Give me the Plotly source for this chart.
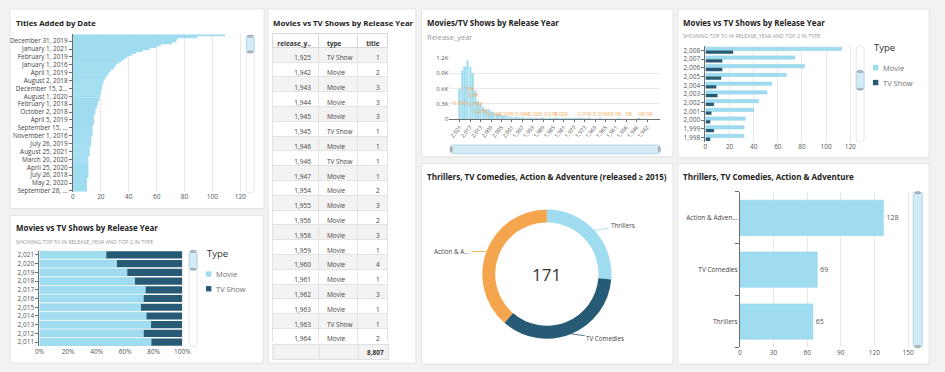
import math
import plotly.graph_objects as go

W, H = 945, 372


def fx(p):
    return p / W


def fy(p):
    return 1 - p / H


FONT = "Open Sans"
LIGHT = "#9fdcf0"
LIGHT_EDGE = "#86cfe8"
DARK = "#275b75"
ORANGE = "#f5a54d"
GRID = "#e8e8e8"
AXIS = "#6e6e6e"
TICK = "#555555"
TITLE = "#222222"
SUB = "#9a9a9a"

# ---------------- data ----------------
# Titles Added by Date (top of the sorted list that is visible)
date_added = [
    "January 1, 2020", "November 1, 2019", "March 1, 2018", "December 31, 2019",
    "October 1, 2018", "July 1, 2021", "September 1, 2021", "January 1, 2021",
    "December 1, 2018", "November 1, 2018", "June 2, 2021", "February 1, 2019",
    "January 1, 2019", "December 1, 2019", "October 1, 2019", "January 1, 2016",
    "January 1, 2018", "March 1, 2019", "August 1, 2018", "April 1, 2019",
    "July 1, 2019", "September 1, 2019", "June 1, 2019", "August 2, 2018",
    "May 1, 2019", "August 1, 2019", "April 1, 2018", "December 15, 2017",
    "July 1, 2018", "June 1, 2018", "May 1, 2018", "August 1, 2020",
    "November 1, 2017", "October 1, 2017", "December 1, 2017", "February 1, 2018",
    "July 1, 2020", "September 1, 2018", "April 1, 2020", "October 2, 2018",
    "March 1, 2017", "June 1, 2017", "January 1, 2017", "April 5, 2019",
    "May 1, 2017", "August 1, 2017", "September 1, 2017", "September 15, 2018",
    "December 1, 2016", "March 1, 2020", "June 1, 2020", "November 1, 2016",
    "July 1, 2017", "October 1, 2020", "February 1, 2020", "July 26, 2019",
    "December 15, 2019", "May 1, 2020", "November 20, 2019", "August 25, 2021",
    "September 1, 2020", "December 31, 2020", "November 1, 2020", "March 20, 2020",
    "June 15, 2018", "October 15, 2019", "April 15, 2018", "April 25, 2020",
    "December 20, 2019", "September 15, 2017", "January 15, 2020", "July 26, 2018",
    "October 15, 2020", "May 15, 2020", "February 15, 2019", "May 2, 2020",
    "March 15, 2018", "August 15, 2020", "December 1, 2020", "September 28, 2018",
]
date_counts = [
    109, 89, 75, 74, 71, 63, 60, 55, 50, 45,
    42, 39, 37, 35, 33, 31, 30, 29, 27, 26,
    25, 24, 23, 22, 22, 21, 21, 21, 20, 20,
    20, 19, 19, 19, 18, 18, 17, 17, 16, 16,
    16, 15, 15, 15, 15, 15, 14, 14, 14, 14,
    14, 14, 13, 13, 13, 13, 13, 12, 12, 12,
    12, 12, 11, 11, 11, 11, 11, 11, 11, 11,
    11, 11, 11, 10, 10, 10, 10, 10, 10, 10,
]
date_tick_text = [
    "December 31, 2019", "January 1, 2021", "February 1, 2019", "January 1, 2016",
    "April 1, 2019", "August 2, 2018", "December 15, 2...", "August 1, 2020",
    "February 1, 2018", "October 2, 2018", "April 5, 2019", "September 15, ...",
    "November 1, 2016", "July 26, 2019", "August 25, 2021", "March 20, 2020",
    "April 25, 2020", "July 26, 2018", "May 2, 2020", "September 28, ...",
]

# Movies vs TV shows share (100% stacked)
share_years = [2021, 2020, 2019, 2018, 2017, 2016, 2015, 2014, 2013, 2012, 2011]
share_movies = [277, 517, 633, 767, 767, 658, 398, 264, 225, 173, 145]
share_tv = [315, 436, 397, 380, 265, 244, 162, 88, 63, 64, 40]
share_ticks = [0, 20, 40, 60, 80, 100]

# Table
table_years = [1925, 1942, 1943, 1944, 1945, 1945, 1946, 1946, 1947, 1954, 1955,
               1956, 1958, 1959, 1960, 1961, 1962, 1963, 1963, 1964, 1965]
table_types = ["TV Show", "Movie", "Movie", "Movie", "Movie", "TV Show", "Movie",
               "TV Show", "Movie", "Movie", "Movie", "Movie", "Movie", "Movie",
               "Movie", "Movie", "Movie", "Movie", "TV Show", "Movie", "Movie"]
table_titles = [1, 2, 3, 3, 3, 1, 1, 1, 1, 2, 3, 2, 3, 1, 4, 1, 3, 1, 1, 2, 2]
total_titles = 8807

# Titles by release year
release_years = list(range(2021, 1957, -1)) + [1956, 1955, 1954, 1947, 1946,
                                               1945, 1944, 1943, 1942, 1925]
release_counts = [
    592, 953, 1030, 1147, 1032, 902, 560, 352, 288, 237,   # 2021-2012
    185, 194, 152, 136, 88, 96, 80, 64, 61, 51,            # 2011-2002
    45, 37, 39, 36, 38, 24, 25, 22, 28, 23,                # 2001-1992
    17, 22, 16, 18, 8, 13, 10, 12, 11, 17,                 # 1991-1982
    13, 11, 11, 7, 7, 9, 7, 7, 10, 5,                      # 1981-1972
    5, 2, 2, 3, 5, 1, 2, 2, 2, 3,                          # 1971-1962
    1, 4, 1, 3,                                            # 1961-1958
    2, 3, 2, 1, 2, 4, 3, 3, 2, 1,                          # 1956-1925
]
labelled_years = [2021, 2018, 2016, 2015, 2013, 2008, 2003, 1997, 1992, 1986,
                  1982, 1973, 1967, 1963, 1960, 1955, 1944, 1925]

# Grouped bars 2008-1998
group_years = [2008, 2007, 2006, 2005, 2004, 2003, 2002, 2001, 2000, 1999, 1998]
group_movies = [113, 74, 82, 67, 55, 51, 44, 40, 33, 32, 32]
group_tv = [23, 14, 14, 13, 9, 10, 7, 5, 4, 7, 4]

# Genres
recent_genres = ["Thrillers", "TV Comedies", "Action & Adventure"]
recent_display = ["Thrillers", "TV Comedies", "Action & A..."]
recent_counts = [45, 60, 66]

all_genres = ["Action & Adventure", "TV Comedies", "Thrillers"]
all_display = ["Action & Adven...", "TV Comedies", "Thrillers"]
all_counts = [128, 69, 65]

# ---------------- figure ----------------
fig = go.Figure()

# Panel A
fig.add_trace(go.Bar(x=date_counts, y=date_added, orientation="h", width=1.0,
                     marker=dict(color=LIGHT, line=dict(width=0)),
                     xaxis="x", yaxis="y", showlegend=False))

# Panel B (100% stacked)
share_labels = [f"{y:,}" for y in share_years]
movie_pct = [m / (m + t) * 100 for m, t in zip(share_movies, share_tv)]
tv_pct = [t / (m + t) * 100 for m, t in zip(share_movies, share_tv)]
fig.add_trace(go.Bar(x=movie_pct, y=share_labels, orientation="h", width=0.82,
                     marker=dict(color=LIGHT, line=dict(color=LIGHT_EDGE, width=0.5)),
                     xaxis="x2", yaxis="y2", showlegend=False, name="Movie"))
fig.add_trace(go.Bar(x=tv_pct, y=share_labels, base=movie_pct, orientation="h",
                     width=0.82, marker=dict(color=DARK, line=dict(width=0)),
                     xaxis="x2", yaxis="y2", showlegend=False, name="TV Show"))

# Panel D
rel_labels = [f"{y:,}" for y in release_years]
fig.add_trace(go.Bar(x=rel_labels, y=release_counts, width=0.7,
                     marker=dict(color=LIGHT, line=dict(width=0)),
                     xaxis="x3", yaxis="y3", showlegend=False))


def kfmt(v):
    s = f"{v / 1000:.2f}".rstrip("0").rstrip(".")
    return s + "K"


lab_vals = [release_counts[release_years.index(y)] for y in labelled_years]
fig.add_trace(go.Scatter(x=[f"{y:,}" for y in labelled_years],
                         y=[max(v / 2, 90) for v in lab_vals],
                         text=[kfmt(v) for v in lab_vals], mode="text",
                         textfont=dict(size=5.5, color=ORANGE, family=FONT),
                         cliponaxis=False, xaxis="x3", yaxis="y3",
                         showlegend=False, hoverinfo="skip"))

# Panel F (grouped)
grp_labels = [f"{y:,}" for y in group_years]
fig.add_trace(go.Bar(x=group_movies, y=grp_labels, orientation="h", width=0.375,
                     offset=-0.375,
                     marker=dict(color=LIGHT, line=dict(color=LIGHT_EDGE, width=0.5)),
                     xaxis="x4", yaxis="y4", showlegend=False, name="Movie"))
fig.add_trace(go.Bar(x=group_tv, y=grp_labels, orientation="h", width=0.375,
                     offset=0.0, marker=dict(color=DARK, line=dict(width=0)),
                     xaxis="x4", yaxis="y4", showlegend=False, name="TV Show"))

# Panel G
fig.add_trace(go.Bar(x=all_counts, y=all_genres, orientation="h", width=0.68,
                     marker=dict(color=LIGHT, line=dict(color=LIGHT_EDGE, width=0.5)),
                     text=all_counts, textposition="outside",
                     textfont=dict(size=7, color="#555555", family=FONT),
                     cliponaxis=False, xaxis="x5", yaxis="y5", showlegend=False))

# Donut
CX, CY, R = 550, 276, 66
fig.add_trace(go.Pie(labels=recent_genres, values=recent_counts, hole=0.8,
                     sort=False, direction="clockwise", rotation=0,
                     marker=dict(colors=[LIGHT, DARK, ORANGE], line=dict(width=0)),
                     textinfo="none", showlegend=False,
                     domain=dict(x=[fx(CX - R), fx(CX + R)], y=[fy(CY + R), fy(CY - R)])))

# Table
n_rows = len(table_years)
row_fill = ["#f3f3f3" if i % 2 == 0 else "#ffffff" for i in range(n_rows)]
fig.add_trace(go.Table(
    domain=dict(x=[fx(271.7), fx(389.3)], y=[fy(346), fy(29.7)]),
    columnwidth=[47.3, 39.3, 31],
    header=dict(values=["release_y..", "type", "title"],
                align=["right", "left", "right"], height=14.3,
                fill_color="#ffffff", line_color="#d9d9d9",
                font=dict(size=6.5, color="#333333", family=FONT, weight="bold")),
    cells=dict(values=[[f"{y:,}" for y in table_years],
                       [t.replace(" ", "\u00a0") for t in table_types],
                       table_titles],
               align=["right", "left", "right"], height=14.8,
               fill_color=[row_fill] * 3, line_color="#e3e3e3",
               font=dict(size=6.5, color="#444444", family=FONT)),
))

# ---------------- axes ----------------
common_tick = dict(family=FONT, size=6.5, color=TICK)
layout_axes = dict(
    xaxis=dict(domain=[fx(69), fx(241)], range=[0, 121.5], anchor="y",
               tickvals=[0, 20, 40, 60, 80, 100, 120], showgrid=True, gridcolor=GRID,
               zeroline=False, showline=False, ticks="", tickfont=common_tick),
    yaxis=dict(domain=[fy(192), fy(31)], anchor="x", type="category",
               categoryorder="array", categoryarray=date_added, autorange="reversed",
               tickvals=date_added[3::4], ticktext=date_tick_text,
               showline=True, linecolor=AXIS, linewidth=1, ticks="outside",
               ticklen=3, tickcolor=AXIS, tickfont=dict(family=FONT, size=6.4, color="#444444"),
               showgrid=False),
    xaxis2=dict(domain=[fx(35), fx(180)], range=[0, 100], anchor="y2",
                tickvals=share_ticks, ticktext=[f"{t}%" for t in share_ticks],
                showgrid=False, zeroline=False, ticks="", tickfont=common_tick),
    yaxis2=dict(domain=[fy(350), fy(252)], anchor="x2", type="category",
                categoryorder="array", categoryarray=share_labels, autorange="reversed",
                showline=True, linecolor=AXIS, ticks="outside", ticklen=3,
                tickcolor=AXIS, tickfont=common_tick, showgrid=False),
    xaxis3=dict(domain=[fx(451), fx(665)], anchor="y3", type="category",
                categoryorder="array", categoryarray=rel_labels,
                tickvals=rel_labels[0::4], tickangle=-50, showline=True,
                linecolor=AXIS, ticks="outside", ticklen=2, tickcolor=AXIS,
                tickfont=dict(family=FONT, size=5.5, color=TICK), showgrid=False),
    yaxis3=dict(domain=[fy(117.5), fy(55)], anchor="x3", range=[0, 1200],
                tickvals=[0, 300, 600, 900, 1200],
                ticktext=["0", "0.3K", "0.6K", "0.9K", "1.2K"],
                showgrid=True, gridcolor=GRID, zeroline=False, ticks="",
                tickfont=dict(family=FONT, size=6, color=TICK)),
    xaxis4=dict(domain=[fx(711), fx(862)], range=[0, 123.3], anchor="y4",
                tickvals=[0, 20, 40, 60, 80, 100, 120], showgrid=True, gridcolor=GRID,
                zeroline=False, ticks="", tickfont=common_tick),
    yaxis4=dict(domain=[fy(141), fy(43)], anchor="x4", type="category",
                categoryorder="array", categoryarray=grp_labels, autorange="reversed",
                showline=True, linecolor=AXIS, ticks="outside", ticklen=3,
                tickcolor=AXIS, tickfont=common_tick, showgrid=False),
    xaxis5=dict(domain=[fx(746), fx(918)], range=[0, 151.2], anchor="y5",
                tickvals=[0, 30, 60, 90, 120, 150], showgrid=True, gridcolor=GRID,
                zeroline=False, ticks="", tickfont=common_tick),
    yaxis5=dict(domain=[fy(351), fy(192)], anchor="x5", type="category",
                categoryorder="array", categoryarray=all_genres, autorange="reversed",
                tickvals=all_genres, ticktext=all_display,
                showline=True, linecolor=AXIS, linewidth=1.2, ticks="outside",
                tickson="boundaries", ticklen=4, tickcolor=AXIS,
                tickfont=dict(family=FONT, size=6.5, color="#444444"), showgrid=False),
)

# ---------------- shapes ----------------
shapes = []
panels = [(5, 5, 263, 209), (5, 216, 262, 367), (267, 5, 417, 367),
          (423, 5, 678, 156), (423, 163, 678, 368), (683, 5, 938, 157),
          (683, 163, 938, 368)]
for x0, y0, x1, y1 in panels:
    shapes.append(dict(type="rect", xref="paper", yref="paper", layer="below",
                       x0=fx(x0), x1=fx(x1), y0=fy(y1), y1=fy(y0),
                       fillcolor="#ffffff", line=dict(color="#e3e3e3", width=1)))


def rrect(x0, y0, x1, y1, r, fill, line):
    # rounded rectangle path in paper coordinates (pixel inputs)
    def P(x, y):
        return f"{fx(x):.5f},{fy(y):.5f}"
    path = (f"M {P(x0 + r, y0)} L {P(x1 - r, y0)} Q {P(x1, y0)} {P(x1, y0 + r)} "
            f"L {P(x1, y1 - r)} Q {P(x1, y1)} {P(x1 - r, y1)} L {P(x0 + r, y1)} "
            f"Q {P(x0, y1)} {P(x0, y1 - r)} L {P(x0, y0 + r)} Q {P(x0, y0)} {P(x0 + r, y0)} Z")
    return dict(type="path", xref="paper", yref="paper", layer="above", path=path,
                fillcolor=fill, line=dict(color=line, width=0.8))


TRACK_FILL, TRACK_LINE = "#ffffff", "#e0e0e0"
HANDLE_FILL, HANDLE_LINE = "#d3eaf7", "#a9d0e6"
GRIP = "#8c8c8c"


def grip_v(xc, y):
    return dict(type="circle", xref="paper", yref="paper", layer="above",
                x0=fx(xc - 3), x1=fx(xc + 3), y0=fy(y + 1), y1=fy(y - 1),
                fillcolor="#b8c4cc", line=dict(color=GRIP, width=0.6))


def grip_h(x, yc):
    return dict(type="circle", xref="paper", yref="paper", layer="above",
                x0=fx(x - 1), x1=fx(x + 1), y0=fy(yc + 3), y1=fy(yc - 3),
                fillcolor="#b8c4cc", line=dict(color=GRIP, width=0.6))


# vertical scrollbars (track, handle)
for (x0, x1, t0, t1, h0, h1) in [(245, 253, 32, 193, 32, 50),
                                  (187, 195, 252, 350, 252, 272),
                                  (864, 872, 43, 141, 68, 88),
                                  (922, 931, 192, 351, 192, 351)]:
    shapes.append(rrect(x0, t0, x1, t1, 3, TRACK_FILL, TRACK_LINE))
    shapes.append(rrect(x0, h0, x1, h1, 3, HANDLE_FILL, HANDLE_LINE))
    xc = (x0 + x1) / 2
    shapes.append(grip_v(xc, h0 + 1))
    shapes.append(grip_v(xc, h1 - 1))

# horizontal scrollbar for release-year chart
shapes.append(rrect(452, 144, 665, 153, 3, HANDLE_FILL, HANDLE_LINE))
shapes.append(grip_h(453, 148.5))
shapes.append(grip_h(664, 148.5))

# legend swatches
legend_specs = [(204, 276, LIGHT, "Movie"), (204, 291, DARK, "TV Show"),
                (881, 65, LIGHT, "Movie"), (881, 80.3, DARK, "TV Show")]
for lx, ly, col, _ in legend_specs:
    shapes.append(dict(type="rect", xref="paper", yref="paper", layer="above",
                       x0=fx(lx), x1=fx(lx + 5.5), y0=fy(ly + 2.75), y1=fy(ly - 2.75),
                       fillcolor=col, line=dict(width=0)))

# table footer
shapes.append(dict(type="rect", xref="paper", yref="paper", layer="above",
                   x0=fx(271.7), x1=fx(389.3), y0=fy(363.3), y1=fy(348),
                   fillcolor="#f3f3f3", line=dict(color="#d9d9d9", width=0.8)))
for sx in (319, 358.6):
    shapes.append(dict(type="line", xref="paper", yref="paper", layer="above",
                       x0=fx(sx), x1=fx(sx), y0=fy(363.3), y1=fy(348),
                       line=dict(color="#d9d9d9", width=0.8)))

# ---------------- annotations ----------------
ann = []


def text(x, y, s, size, color, bold=False, xanchor="left", **kw):
    ann.append(dict(xref="paper", yref="paper", x=fx(x), y=fy(y),
                    text=f"<b>{s}</b>" if bold else s, showarrow=False,
                    xanchor=xanchor, yanchor="middle",
                    font=dict(family=FONT, size=size, color=color), **kw))


text(9, 19, "Titles Added by Date", 7.8, TITLE, bold=True)
text(270, 19, "Movies vs TV Shows by Release Year", 7.85, TITLE, bold=True)
text(426, 19, "Movies/TV Shows by Release Year", 7.9, TITLE, bold=True)
text(426, 33.5, "Release_year", 7.5, SUB)
text(686, 19, "Movies vs TV Shows by Release Year", 7.95, TITLE, bold=True)
text(686, 33, "SHOWING TOP 50 IN RELEASE_YEAR AND TOP 2 IN TYPE", 5.3, SUB)
text(9, 229, "Movies vs TV Shows by Release Year", 7.95, TITLE, bold=True)
text(9, 243, "SHOWING TOP 50 IN RELEASE_YEAR AND TOP 2 IN TYPE", 5.3, SUB)
text(426, 176.5, "Thrillers, TV Comedies, Action &amp; Adventure (released ≥ 2015)", 8.0, TITLE, bold=True)
text(686, 176.5, "Thrillers, TV Comedies, Action &amp; Adventure", 8.0, TITLE, bold=True)

# legends
text(203.5, 254.5, "Type", 9.5, "#333333")
text(880.5, 44, "Type", 9.5, "#333333")
for lx, ly, _, name in legend_specs:
    text(lx + 8.5, ly, name, 7.5, "#707070")

# donut center and labels
text(CX, CY, f"{sum(recent_counts)}", 17, "#333333", xanchor="center")
label_offsets = [(28, -4.5), (34, 4.5), (-34, 0.4)]
total = sum(recent_counts)
cum = 0
slice_cols = [LIGHT, DARK, ORANGE]
for name, v, (ox, oy), col in zip(recent_display, recent_counts, label_offsets, slice_cols):
    th = 2 * math.pi * (cum + v / 2) / total
    px = CX + R * math.sin(th)
    py = CY - R * math.cos(th)
    cum += v
    ann.append(dict(xref="paper", yref="paper", x=fx(px), y=fy(py), text=name,
                    showarrow=True, arrowhead=0, arrowwidth=0.8, arrowcolor=col,
                    ax=ox, ay=oy, axref="pixel", ayref="pixel", standoff=0,
                    font=dict(family=FONT, size=6.3, color="#444444")))

# table footer total
text(386.5, 355.7, f"{total_titles:,}", 6.5, "#333333", bold=True, xanchor="right")

fig.update_layout(
    width=W, height=H, margin=dict(l=0, r=0, t=0, b=0),
    paper_bgcolor="#f2f2f2", plot_bgcolor="rgba(0,0,0,0)",
    font=dict(family=FONT, color=TICK), barmode="overlay", showlegend=False,
    shapes=shapes, annotations=ann, **layout_axes,
)

fig.write_html("out.html", config={"displayModeBar": False},
               post_script="document.body.style.margin='0px';"
                           "document.body.style.overflow='hidden';")
